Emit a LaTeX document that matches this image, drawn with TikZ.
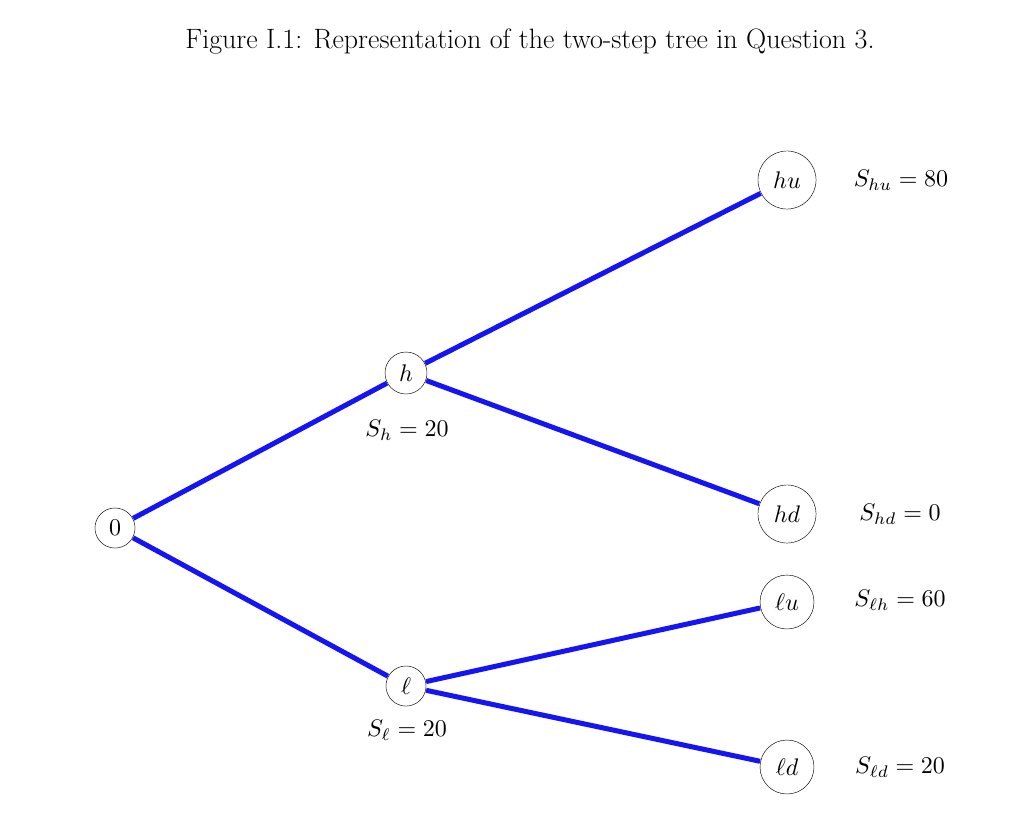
\documentclass[tikz,border=0pt]{standalone}
\begin{document}
\begin{tikzpicture}[x=1pt,y=-1pt,
  st/.style={circle,draw,line width=0.45pt,inner sep=0pt,scale=2.4},
  lab/.style={scale=2.4},
  edge/.style={line width=5pt,draw={rgb,255:red,20;green,20;blue,245}}]
\useasboundingbox (0,0) rectangle (1024,831);
\node[font=\fontsize{28}{32}\selectfont] (title) at (530,42) {Figure I.1: Representation of the two-step tree in Question 3.};
\node[st,minimum size=16.7] (n0) at (115,528) {$0$};
\node[st,minimum size=17.5] (h) at (406,373) {$h$};
\node[st,minimum size=16.7] (l) at (406,686) {$\ell$};
\node[st,minimum size=24.2] (hu) at (787,180) {$hu$};
\node[st,minimum size=24.2] (hd) at (787,514) {$hd$};
\node[st,minimum size=22.5] (lu) at (787,602) {$\ell u$};
\node[st,minimum size=22.5] (ld) at (787,767) {$\ell d$};
\draw[edge] (n0) -- (h);
\draw[edge] (n0) -- (l);
\draw[edge] (h) -- (hu);
\draw[edge] (h) -- (hd);
\draw[edge] (l) -- (lu);
\draw[edge] (l) -- (ld);
\node[lab] (lhu) at (901,180) {$S_{hu}=80$};
\node[lab] (lh) at (407,430) {$S_{h}=20$};
\node[lab] (lhd) at (900,514) {$S_{hd}=0$};
\node[lab] (llu) at (900,600) {$S_{\ell h}=60$};
\node[lab] (ll) at (407,730) {$S_{\ell}=20$};
\node[lab] (lld) at (900,767) {$S_{\ell d}=20$};
\end{tikzpicture}
\end{document}
